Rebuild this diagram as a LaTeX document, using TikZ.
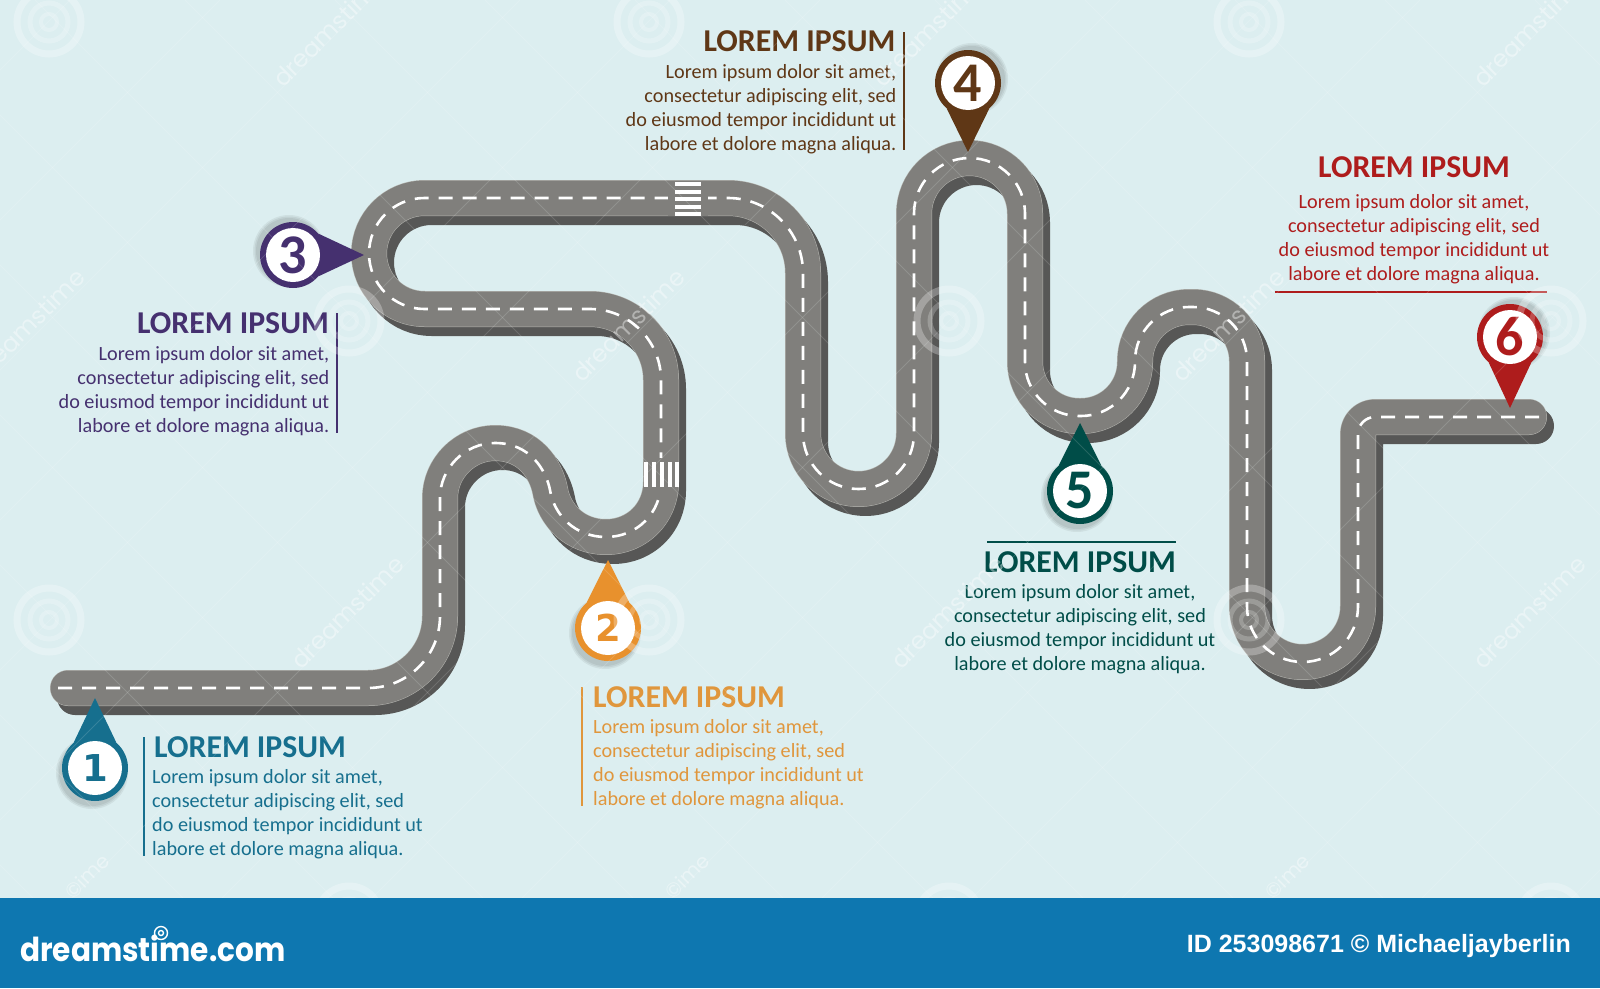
\documentclass[tikz,border=0pt]{standalone}
\usepackage{fontspec}
\setmainfont{Carlito}
\newfontfamily\digitfont{DejaVu Sans}
\newfontfamily\logofont{Poppins}
\newfontfamily\creditfont{Liberation Sans}

\definecolor{skybg}{HTML}{DCEEF0}
\definecolor{bandblue}{HTML}{0E77B0}
\definecolor{tarmac}{HTML}{807F7C}
\definecolor{tarmacedge}{HTML}{B4B4AF}
\definecolor{kerb}{HTML}{575756}
\definecolor{tealpin}{HTML}{166F8E}
\definecolor{orangepin}{HTML}{E8912D}
\definecolor{orangetext}{HTML}{E0963C}
\definecolor{purplepin}{HTML}{45306F}
\definecolor{brownpin}{HTML}{5F3716}
\definecolor{greenpin}{HTML}{004D48}
\definecolor{redpin}{HTML}{AE1C1C}

\tikzset{
  roadbase/.style={line cap=round, line join=round},
  headtext/.style={inner sep=0pt, font=\fontsize{31.8}{32}\selectfont\bfseries},
  bodytext/.style={inner sep=0pt, font=\fontsize{20.2}{24}\selectfont},
  pinring/.style={circle, inner sep=0pt, minimum size=66pt},
  pinface/.style={circle, inner sep=0pt, minimum size=54pt, fill=white},
  digitwide/.style={font=\digitfont\fontsize{37}{37}\selectfont\bfseries},
  digittall/.style={font=\fontsize{56}{56}\selectfont\bfseries},
}

% centre line of the road, without its two ends
\newcommand{\roadline}{
  [rounded corners=72pt] -- (440,688) [sharp corners] -- (440,498)
  .. controls (440,468) and (465,443) .. (495,443)
  .. controls (530,443) and (546,470) .. (550,490)
  .. controls (554,515) and (575,537) .. (606,537)
  .. controls (637,537) and (661,513) .. (661,482)
  -- (661,440) [rounded corners=71pt] -- (661,309)
  [rounded corners=55.5pt] -- (369,309) -- (369,198)
  [rounded corners=75pt] -- (803,198)
  [rounded corners=55.5pt] -- (803,489) -- (914,489) -- (914,158) -- (1025,158)
  [rounded corners=54pt] -- (1025,416) -- (1135,416) -- (1135,307) -- (1247,307)
  [rounded corners=55.5pt] -- (1247,662) -- (1358,662)
  [rounded corners=17pt] -- (1358,417)
}

\begin{document}
\begin{tikzpicture}[x=1pt,y=-1pt]

    \useasboundingbox (0,0) rectangle (1600,988);

    % Background
    \fill[skybg] (0,0) rectangle (1600,988);

    % Road
    \draw[roadbase, kerb, line width=36pt, xshift=7pt, yshift=-9pt] (68,688) \roadline -- (1529,417);
    \draw[roadbase, tarmacedge, line width=36pt] (68,688) \roadline -- (1529,417);
    \draw[roadbase, tarmac, line width=35pt] (68,688) \roadline -- (1529,417);

    % Centre line
    \draw[white, line width=2.6pt, dash pattern=on 14pt off 10pt] (58,688) -- (68,688) \roadline -- (1540,417);

    % Crossings
    \fill[tarmac] (668,182) rectangle (708,216);
    \foreach \ypos in {182,189.5,197,204.5,212}
      \fill[white] (675,\ypos) rectangle (701,\ypos+4.2);
    \fill[tarmac] (644,458) rectangle (678,492);
    \foreach \xpos in {644,652,660,667.5,675}
      \fill[white] (\xpos,462) rectangle (\xpos+4,487);

    % Pins
    \foreach \num/\col/\cen/\tip/\angle/\off/\dstyle in {
        1/tealpin/{95,768}/{95,698}/90/{-3,5}/digitwide,
        2/orangepin/{608,628}/{608,560}/90/{-3,5}/digitwide,
        3/purplepin/{293,255}/{364,255}/0/{-4,-4}/digittall,
        4/brownpin/{968,83}/{968,152}/270/{4,-4}/digittall,
        5/greenpin/{1080,491}/{1080,423}/90/{-3,5}/digittall,
        6/redpin/{1510,337}/{1510,408}/270/{4,-4}/digittall} {
      \foreach \rad in {33,34.5,36}
        \fill[black, opacity=0.06, shift={(\off)}] (\cen) circle (\rad);
      \node[pinring, fill=\col] (ring\num) at (\cen) {};
      \coordinate (tip\num) at (\tip);
      \fill[\col] (tip\num) -- (ring\num.\angle+40) -- (ring\num.\angle-40) -- cycle;
      \node[pinface, text=\col, \dstyle] (face\num) at (\cen) {\num};
    }

    % Block 1
    \draw[tealpin, line width=1.2pt] (144,737) -- (144,856);
    \node[headtext, text=tealpin, anchor=base west] (headone) at (154,757.5) {LOREM IPSUM};
    \node[bodytext, text=tealpin, anchor=north west, align=left] (bodyone) at (152,769.5) {Lorem ipsum dolor sit amet,\\consectetur adipiscing elit, sed\\do eiusmod tempor incididunt ut\\labore et dolore magna aliqua.};

    % Block 2
    \draw[orangetext, line width=1.2pt] (582,687) -- (582,806);
    \node[headtext, text=orangetext, anchor=base west] (headtwo) at (593,707.5) {LOREM IPSUM};
    \node[bodytext, text=orangetext, anchor=north west, align=left] (bodytwo) at (593,719.5) {Lorem ipsum dolor sit amet,\\consectetur adipiscing elit, sed\\do eiusmod tempor incididunt ut\\labore et dolore magna aliqua.};

    % Block 3
    \draw[purplepin, line width=1.2pt] (337,313) -- (337,433);
    \node[headtext, text=purplepin, anchor=base east] (headthree) at (329,333.5) {LOREM IPSUM};
    \node[bodytext, text=purplepin, anchor=north east, align=right] (bodythree) at (329.5,346.5) {Lorem ipsum dolor sit amet,\\consectetur adipiscing elit, sed\\do eiusmod tempor incididunt ut\\labore et dolore magna aliqua.};

    % Block 4
    \draw[brownpin, line width=1.2pt] (904,32) -- (904,150);
    \node[headtext, text=brownpin, anchor=base east] (headfour) at (895.5,51.5) {LOREM IPSUM};
    \node[bodytext, text=brownpin, anchor=north east, align=right] (bodyfour) at (896.5,64.5) {Lorem ipsum dolor sit amet,\\consectetur adipiscing elit, sed\\do eiusmod tempor incididunt ut\\labore et dolore magna aliqua.};

    % Block 5
    \draw[greenpin, line width=1.2pt] (987,542) -- (1176,542);
    \node[headtext, text=greenpin, anchor=base] (headfive) at (1080,572.5) {LOREM IPSUM};
    \node[bodytext, text=greenpin, anchor=north, align=center] (bodyfive) at (1080,584.5) {Lorem ipsum dolor sit amet,\\consectetur adipiscing elit, sed\\do eiusmod tempor incididunt ut\\labore et dolore magna aliqua.};

    % Block 6
    \draw[redpin, line width=1.2pt] (1275,292) -- (1547,292);
    \node[headtext, text=redpin, anchor=base] (headsix) at (1414,177.5) {LOREM IPSUM};
    \node[bodytext, text=redpin, anchor=north, align=center] (bodysix) at (1414,194.5) {Lorem ipsum dolor sit amet,\\consectetur adipiscing elit, sed\\do eiusmod tempor incididunt ut\\labore et dolore magna aliqua.};

    % Watermark
    \foreach \k in {0,...,16} {
      \draw[white, opacity=0.14, line width=0.8pt] (70+150*\k,0) -- (70+150*\k-898,898);
      \draw[white, opacity=0.14, line width=0.8pt] (-865+150*\k,0) -- (-865+150*\k+898,898);
    }
    \foreach \xpos/\ypos in {49/22,649/22,1249/22,349/321,949/321,1551/321,49/620,649/620,1249/620,349/918,949/918,1551/918} {
      \draw[white, opacity=0.28, line width=7pt] (\xpos,\ypos) circle (32);
      \draw[white, opacity=0.22, line width=5pt] (\xpos,\ypos) circle (19);
      \draw[white, opacity=0.22, line width=4pt] (\xpos,\ypos) circle (8);
    }
    \foreach \xpos/\ypos in {329/30,929/30,1529/30,28/325,628/325,1228/325,347/612,947/612,1529/612}
      \node[rotate=45, white, opacity=0.4, font=\logofont\fontsize{24}{24}\selectfont] at (\xpos,\ypos) {dreamstime};
    \foreach \xpos in {87,687,1287}
      \node[rotate=45, white, opacity=0.4, font=\logofont\fontsize{20}{20}\selectfont] at (\xpos,876) {©ime};

    % Bottom band
    \fill[bandblue] (0,898) rectangle (1600,988);
    \node[white, anchor=base west, inner sep=0pt, xscale=0.895, transform shape, font=\logofont\fontsize{33}{33}\selectfont\bfseries] (logo) at (20,961) {dreamstime.com};
    \draw[white, line width=1.4pt] (161,933) circle (6.5) (161,933) circle (2.5);
    \node[white, anchor=base east, inner sep=0pt, font=\creditfont\fontsize{25}{25}\selectfont\bfseries] (credit) at (1571,952) {ID 253098671 © Michaeljayberlin};

\end{tikzpicture}
\end{document}
